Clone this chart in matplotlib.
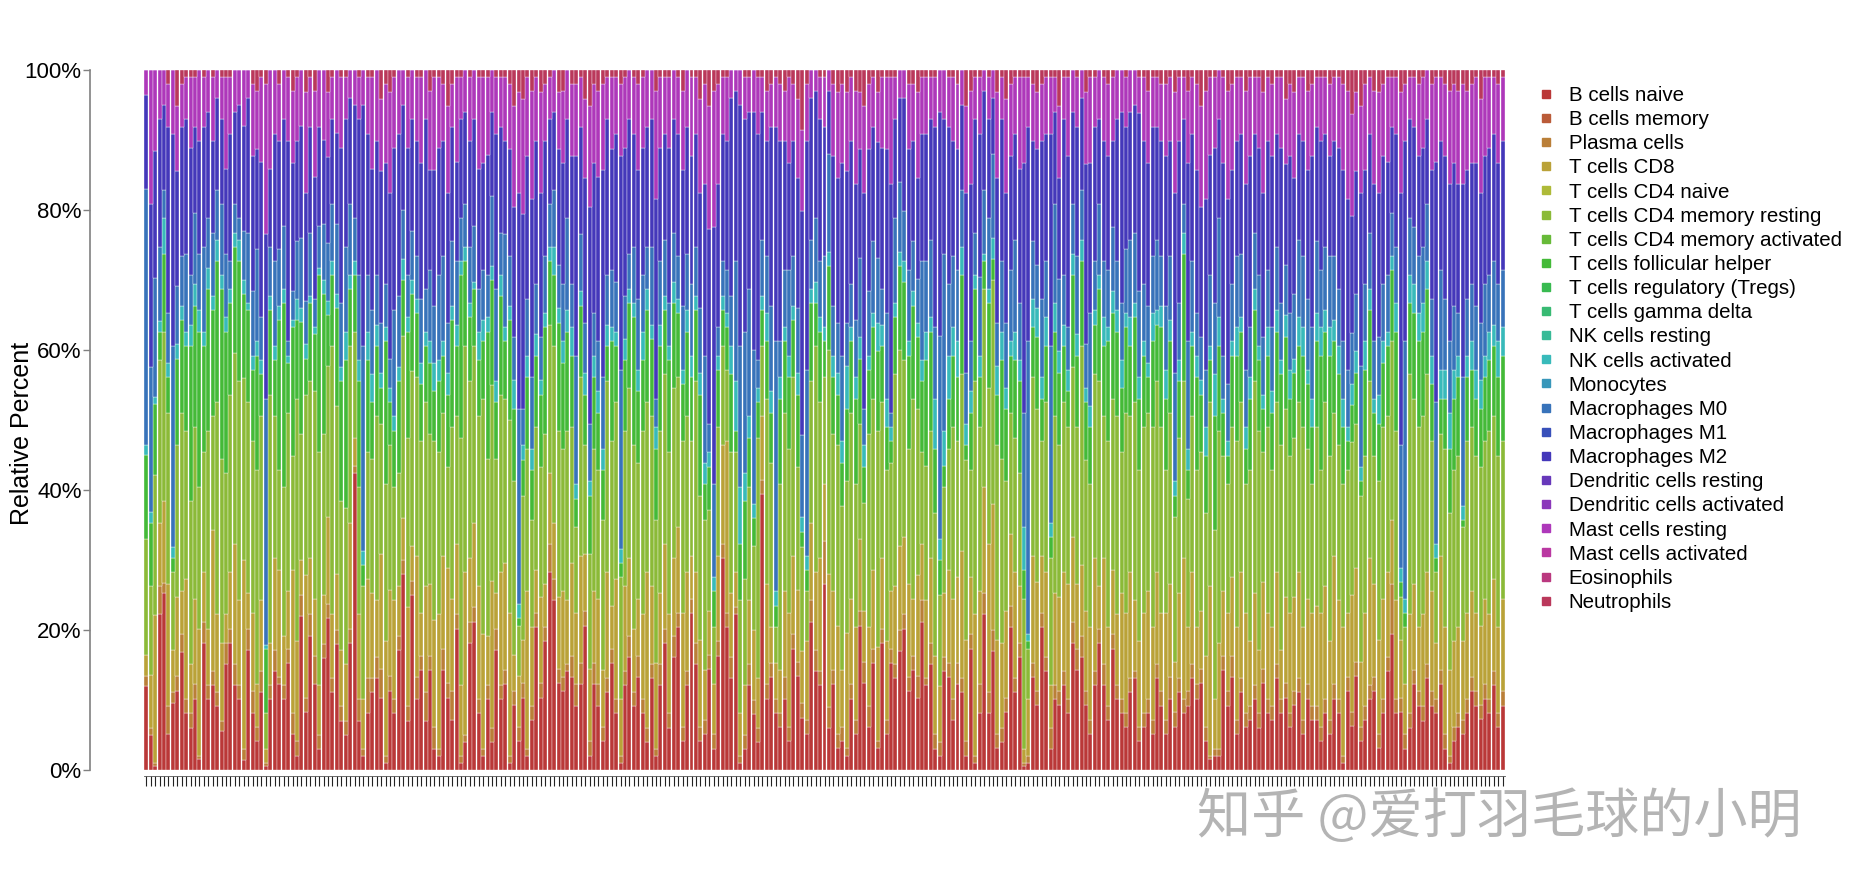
import numpy as np
import pandas as pd
import matplotlib
matplotlib.use("Agg")
import matplotlib.pyplot as plt
from matplotlib.colors import hsv_to_rgb
from matplotlib.lines import Line2D

cell_types = ["B cells naive", "B cells memory", "Plasma cells", "T cells CD8",
              "T cells CD4 naive", "T cells CD4 memory resting",
              "T cells CD4 memory activated", "T cells follicular helper",
              "T cells regulatory (Tregs)", "T cells gamma delta", "NK cells resting",
              "NK cells activated", "Monocytes", "Macrophages M0", "Macrophages M1",
              "Macrophages M2", "Dendritic cells resting", "Dendritic cells activated",
              "Mast cells resting", "Mast cells activated", "Eosinophils", "Neutrophils"]

# estimated fractions (%) per sample; the other cell types are not visible
b_cells_naive = [
    12, 5, 0.5, 22, 25, 5, 9.5, 11, 16.5, 8, 6, 10, 1.5, 18, 10, 12, 9, 5.5, 15, 18, 12, 10, 1.5, 17, 8, 4, 11, 0.5, 10, 14, 12, 10, 15, 5, 2, 22, 8, 19, 12, 3, 16, 21, 11, 18,
    7, 5, 18, 42, 7, 2, 8, 11, 13, 10, 1, 11, 8, 17, 28, 7, 25, 10, 14, 7, 14, 3, 2, 14, 10, 7, 20, 1, 4, 18, 21, 8, 2, 10, 4, 17, 10, 12, 1, 9, 4, 10, 2, 7,
    20, 10, 18, 28, 24, 12, 11, 14, 13, 9, 12, 20, 2, 12, 9, 4, 11, 15, 8, 1, 12, 16, 9, 13, 8, 4, 13, 2, 12, 18, 6, 16, 20, 4, 12, 22, 15, 4, 5, 14, 3, 16, 30, 20,
    13, 22, 1, 3, 12, 8, 4, 39, 10, 13, 8, 6, 10, 4, 17, 13, 7, 5, 21, 14, 12, 26, 6, 12, 3, 4, 2, 10, 5, 20, 12, 6, 15, 3, 18, 5, 15, 13, 17, 20, 11, 14, 10, 21,
    12, 15, 3, 2, 14, 13, 7, 12, 11, 2, 17, 1, 8, 22, 8, 17, 3, 4, 8, 20, 11, 16, 0.5, 1, 13, 9, 20, 14, 3, 10, 9, 12, 8, 18, 14, 16, 9, 5, 12, 18, 12, 7, 17, 10,
    8, 6, 11, 13, 4, 6, 8, 5, 13, 9, 5, 10, 6, 11, 8, 9, 13, 10, 12, 4, 1.5, 2, 2, 14, 9, 13, 5, 11, 6, 7, 10, 6, 12, 8, 7, 13, 8, 10, 6, 9, 11, 5, 10, 7,
    7, 4, 8, 5, 10, 8, 1, 11, 6, 13, 4, 7, 10, 11, 3, 8, 14, 19, 8, 8, 3, 6, 12, 9, 7, 13, 9, 8, 12, 3, 1, 4, 6, 5, 8, 11, 9, 7, 10, 8, 12, 6, 9]
plasma_cells = [
    1.5, 1, 0.5, 4, 1.5, 4, 1.5, 2, 2.5, 2, 2, 2, 0.5, 3, 2, 2, 2, 1.5, 3, 2, 3, 2, 1.5, 3, 3, 2, 3, 0.5, 2, 3, 1, 2, 2, 3, 2, 3, 2, 3, 4, 2, 2, 2, 2, 2,
    2, 2, 2, 1, 3, 1, 5, 2, 3, 4, 1, 2, 2, 2, 2, 2, 2, 3, 2, 4, 2, 3, 1, 3, 2, 4, 2, 1, 1, 3, 2, 2, 1, 2, 2, 3, 2, 2, 1, 2, 2, 2, 1, 2,
    2, 2, 2, 4, 3, 2, 2, 1, 3, 3, 3, 2, 2, 3, 3, 2, 2, 2, 2, 1, 2, 3, 2, 3, 2, 2, 2, 1, 3, 2, 2, 3, 2, 2, 2, 2, 3, 2, 2, 2, 2, 2, 2, 2,
    3, 1, 1, 2, 3, 2, 2, 2, 2, 2, 2, 2, 3, 2, 2, 2, 2, 2, 3, 3, 2, 6, 3, 2, 2, 2, 1, 2, 2, 2, 3, 3, 2, 1, 2, 2, 2, 2, 3, 2, 2, 2, 3, 3,
    1, 3, 2, 2, 2, 2, 3, 3, 2, 2, 2, 1, 4, 3, 3, 3, 2, 2, 2, 3, 2, 2, 0.5, 1, 2, 2, 2, 2, 3, 2, 2, 2, 2, 3, 3, 3, 2, 2, 2, 2, 3, 2, 2, 2,
    2, 2, 2, 1, 2, 2, 2, 2, 2, 2, 2, 3, 2, 2, 2, 2, 2, 2, 2, 2, 0.5, 1, 1, 2, 2, 3, 2, 2, 2, 2, 2, 2, 2, 2, 2, 2, 2, 2, 2, 2, 2, 2, 2, 2,
    2, 2, 2, 2, 2, 2, 1, 2, 2, 2, 2, 2, 2, 2, 2, 2, 2, 7, 2, 2, 2, 2, 2, 2, 2, 2, 2, 2, 2, 2, 1, 2, 2, 2, 2, 2, 2, 2, 2, 2, 2, 2, 2]
t_cells_cd8 = [
    3, 7.5, 21, 9, 11.5, 17, 6, 11, 6, 17, 7, 12, 18, 7, 8, 20, 11, 11, 4, 8, 17, 12, 27, 5, 11, 6, 10, 2, 6, 13, 15, 7, 8, 20, 14, 5, 17, 8, 8, 7, 7, 12, 9, 8,
    8, 8, 15, 4, 12, 7, 14, 12, 8, 16, 16, 12, 14, 7, 6, 14, 5, 17, 6, 15, 10, 15, 19, 13, 16, 13, 10, 10, 23, 9, 12, 16, 16, 7, 21, 5, 16, 15, 20, 5, 7, 6, 22, 11,
    6, 12, 6, 10, 8, 10, 12, 9, 13, 10, 15, 8, 10, 10, 12, 8, 15, 6, 17, 8, 12, 11, 9, 8, 12, 22, 11, 12, 10, 12, 14, 11, 12, 16, 14, 6, 10, 12, 7, 6, 7, 12, 14, 24,
    9, 5, 6, 7, 9, 10, 7, 9, 14, 5, 5, 6, 12, 16, 11, 10, 7, 11, 11, 11, 16, 8, 19, 11, 15, 8, 16, 12, 13, 10, 7, 11, 11, 13, 10, 11, 8, 11, 12, 11, 13, 8, 14, 8,
    11, 12, 11, 8, 9, 13, 14, 12, 18, 14, 8, 20, 13, 15, 21, 18, 13, 12, 12, 10, 15, 8, 2, 8, 15, 15, 8, 12, 6, 13, 13, 14, 16, 12, 9, 10, 11, 13, 16, 6, 15, 11, 9, 10,
    15, 14, 15, 10, 12, 14, 15, 13, 13, 11, 15, 13, 7, 12, 20, 9, 13, 8, 8, 10, 24, 7, 15, 9, 11, 11, 13, 15, 14, 9, 13, 9, 12, 12, 11, 13, 7, 12, 14, 13, 15, 13, 12, 13,
    14, 16, 16, 11, 18, 14, 18, 9, 16, 13, 9, 13, 18, 13, 13, 14, 12, 9, 14, 8, 7, 14, 12, 9, 13, 13, 14, 8, 16, 15, 12, 12, 12, 11, 12, 12, 11, 11, 12, 12, 13, 12, 13]
t_cd4_memory_resting = [
    16.5, 12.5, 20, 23, 24, 24, 11, 21, 25, 21, 23, 24, 20, 17, 28, 16, 30, 26, 20, 25, 27, 31, 26, 27, 24, 30, 26, 5, 35, 20, 14, 21, 25, 16, 34, 18, 25, 25, 29, 33, 23, 21, 38, 24,
    21, 22, 25, 15, 18, 16, 18, 19, 26, 18, 22, 20, 16, 16, 26, 24, 25, 25, 24, 26, 21, 25, 23, 20, 14, 24, 18, 35, 32, 25, 25, 24, 33, 25, 28, 19, 25, 23, 27, 24, 7, 20, 20, 15,
    20, 18, 21, 21, 25, 23, 20, 24, 19, 12, 25, 15, 16, 20, 18, 21, 27, 23, 25, 17, 22, 24, 26, 19, 26, 24, 24, 20, 23, 24, 23, 24, 21, 24, 22, 16, 27, 20, 21, 14, 8, 18, 14, 10,
    20, 17, 16, 15, 16, 12, 34, 10, 26, 23, 5, 26, 25, 23, 25, 17, 14, 7, 20, 32, 22, 15, 32, 22, 25, 23, 21, 26, 20, 16, 15, 27, 24, 30, 22, 24, 18, 30, 28, 25, 19, 28, 23, 13,
    19, 18, 20, 13, 15, 17, 24, 19, 25, 25, 15, 33, 23, 28, 22, 32, 27, 26, 18, 17, 19, 16, 21, 7, 25, 24, 16, 24, 18, 25, 21, 24, 22, 24, 22, 31, 21, 20, 26, 29, 20, 26, 24, 28,
    20, 28, 22, 28, 24, 26, 25, 28, 27, 26, 20, 24, 20, 22, 25, 18, 22, 22, 22, 20, 26, 24, 30, 19, 18, 21, 26, 24, 18, 24, 30, 31, 18, 26, 22, 24, 29, 26, 22, 22, 24, 28, 21, 18,
    25, 20, 26, 26, 20, 22, 20, 20, 21, 20, 23, 22, 25, 18, 22, 24, 22, 25, 24, 6, 8, 34, 26, 28, 28, 28, 21, 10, 17, 25, 22, 24, 24, 16, 24, 23, 22, 22, 22, 26, 23, 24, 22]
t_follicular_helper = [
    12, 9, 10, 4, 11, 5, 2, 12, 13, 12, 22, 17, 22, 15, 20, 15, 20, 24, 20, 13, 15, 17, 12, 13, 10, 16, 6, 9, 12, 8, 21, 26, 7, 18, 11, 16, 5, 11, 8, 25, 20, 7, 10, 14,
    17, 21, 8, 8, 15, 3, 13, 8, 10, 5, 20, 6, 8, 13, 8, 15, 11, 9, 8, 8, 10, 7, 10, 8, 10, 15, 10, 23, 12, 9, 8, 8, 8, 18, 15, 8, 14, 8, 14, 10, 1, 5, 10, 7,
    10, 10, 15, 9, 10, 15, 12, 14, 10, 4, 10, 7, 8, 10, 8, 7, 5, 14, 8, 2, 10, 12, 18, 10, 10, 13, 11, 10, 12, 9, 13, 12, 9, 8, 12, 9, 10, 14, 5, 6, 5, 8, 5, 6,
    11, 3, 8, 11, 7, 4, 5, 5, 8, 7, 3, 12, 10, 10, 8, 10, 2, 3, 11, 6, 10, 5, 12, 8, 7, 6, 10, 10, 12, 9, 5, 9, 10, 11, 8, 6, 3, 8, 12, 11, 13, 13, 10, 10,
    15, 14, 9, 5, 3, 7, 10, 9, 14, 2, 8, 13, 7, 4, 12, 3, 7, 14, 10, 8, 11, 13, 4, 1, 7, 10, 6, 8, 3, 12, 10, 8, 5, 13, 10, 12, 8, 8, 7, 13, 10, 14, 12, 12,
    9, 12, 10, 12, 10, 10, 5, 12, 8, 14, 10, 10, 3, 8, 18, 4, 10, 13, 8, 8, 6, 16, 12, 6, 4, 10, 12, 10, 5, 10, 10, 10, 6, 10, 8, 10, 10, 10, 8, 9, 8, 10, 9, 8,
    12, 16, 10, 14, 10, 10, 8, 4, 5, 7, 2, 12, 10, 6, 8, 9, 10, 10, 14, 2, 2, 10, 12, 12, 12, 12, 8, 2, 5, 7, 9, 10, 11, 1, 9, 8, 8, 8, 9, 10, 10, 11, 12]
nk_cells_activated = [
    1.5, 1.5, 1, 1.5, 5, 2, 1.5, 2, 2, 2, 3, 3, 3, 2, 3, 2, 3, 2, 2, 2, 2, 3, 2, 1, 2, 2, 2, 0.5, 2, 2, 2, 2, 1, 1, 3, 2, 2, 1, 1, 1, 2, 2, 2, 2,
    2, 4, 2, 2, 3, 2, 4, 4, 3, 2, 2, 2, 2, 2, 3, 2, 2, 2, 3, 2, 3, 4, 3, 2, 3, 2, 3, 2, 2, 2, 1, 4, 3, 2, 2, 3, 3, 2, 2, 4, 2, 2, 3, 3,
    3, 2, 2, 2, 4, 2, 3, 3, 4, 2, 2, 3, 2, 3, 3, 3, 3, 2, 2, 2, 3, 2, 2, 3, 4, 3, 2, 3, 3, 2, 2, 3, 2, 2, 3, 3, 2, 3, 3, 2, 2, 2, 2, 2,
    4, 7, 8, 4, 3, 2, 2, 2, 4, 3, 2, 3, 2, 3, 2, 3, 2, 2, 2, 3, 2, 2, 2, 3, 3, 3, 6, 2, 3, 3, 3, 2, 2, 4, 3, 4, 2, 2, 2, 3, 2, 2, 2, 3,
    4, 2, 7, 3, 5, 6, 4, 5, 4, 3, 3, 2, 3, 1, 2, 3, 4, 4, 3, 2, 4, 3, 6, 1, 4, 4, 3, 4, 2, 4, 3, 3, 3, 3, 3, 3, 2, 3, 2, 2, 4, 2, 3, 3,
    4, 2, 4, 2, 3, 2, 2, 4, 2, 3, 4, 3, 2, 3, 3, 3, 2, 3, 2, 4, 2, 6, 4, 2, 2, 2, 4, 2, 3, 3, 3, 2, 2, 4, 3, 3, 2, 3, 4, 2, 4, 4, 2, 4,
    4, 4, 3, 4, 3, 4, 4, 2, 3, 3, 2, 4, 3, 2, 4, 3, 2, 2, 4, 2, 2, 4, 4, 4, 4, 4, 4, 2, 4, 4, 5, 4, 3, 2, 3, 4, 4, 4, 3, 4, 3, 5, 4]
macrophages_m0 = [
    36.5, 20.5, 17, 10.5, 4, 7, 28.5, 8, 7, 11, 7, 10, 8, 12, 7, 9, 7, 10, 9, 4, 4, 3, 7, 10, 9, 13, 6, 34.5, 7, 12, 8, 9, 2, 4, 8, 10, 6, 9, 4, 6, 8, 8, 8, 10,
    9, 12, 10, 6, 12, 29, 8, 9, 7, 7, 6, 4, 15, 10, 7, 6, 7, 6, 9, 6, 10, 8, 12, 12, 7, 9, 9, 6, 6, 8, 8, 6, 7, 6, 10, 13, 6, 13, 7, 6, 27, 5, 8, 10,
    7, 6, 8, 6, 8, 6, 8, 13, 6, 18, 8, 7, 8, 6, 7, 10, 7, 8, 7, 25, 6, 5, 8, 10, 8, 6, 11, 4, 9, 8, 6, 7, 6, 9, 8, 10, 7, 9, 15, 4, 13, 4, 5, 6,
    7, 17, 20, 20, 18, 22, 4, 8, 8, 12, 35, 5, 8, 12, 7, 9, 11, 26, 7, 9, 8, 10, 14, 7, 7, 12, 6, 6, 8, 11, 5, 9, 10, 9, 5, 12, 2, 12, 10, 7, 10, 7, 6, 14,
    10, 11, 10, 29, 25, 10, 10, 10, 8, 7, 7, 6, 11, 9, 10, 12, 6, 10, 9, 10, 13, 8, 16, 41, 8, 6, 11, 8, 25, 14, 10, 7, 6, 7, 11, 7, 6, 13, 7, 10, 8, 8, 9, 7,
    8, 9, 11, 10, 12, 8, 8, 8, 10, 7, 9, 9, 15, 8, 4, 15, 10, 6, 6, 8, 10, 10, 14, 6, 8, 8, 10, 9, 8, 7, 8, 10, 8, 8, 9, 9, 8, 7, 8, 9, 11, 10, 10, 10,
    10, 8, 9, 10, 9, 8, 8, 8, 7, 8, 14, 8, 8, 8, 8, 8, 8, 6, 8, 17, 36, 8, 8, 8, 8, 8, 8, 20, 14, 10, 10, 9, 6, 18, 8, 8, 9, 8, 10, 8, 9, 8, 8]
macrophages_m2 = [
    13.5, 23, 18, 18, 12, 26, 30, 16, 18, 19, 18, 12, 16, 17, 15, 13, 13, 12, 12, 18, 13, 16, 15, 19, 19, 14, 22, 23, 11, 18, 15, 15, 28, 18, 14, 16, 15, 15, 17, 14, 12, 12, 12, 13,
    22, 18, 15, 16, 22, 34, 20, 20, 19, 21, 17, 23, 23, 23, 15, 18, 16, 16, 19, 24, 14, 19, 18, 16, 18, 16, 14, 14, 13, 15, 15, 17, 15, 17, 12, 22, 15, 13, 15, 18, 30, 27, 20, 25,
    20, 20, 16, 12, 11, 16, 17, 14, 18, 28, 15, 20, 30, 21, 23, 29, 22, 17, 21, 30, 21, 19, 16, 18, 18, 17, 18, 28, 16, 15, 22, 16, 17, 19, 18, 18, 16, 16, 24, 27, 36, 20, 18, 18,
    28, 24, 34, 30, 25, 34, 32, 18, 16, 25, 30, 28, 18, 15, 16, 18, 30, 32, 20, 18, 20, 18, 9, 21, 20, 27, 21, 20, 19, 15, 30, 20, 16, 16, 20, 23, 32, 14, 12, 16, 17, 14, 14, 18,
    18, 17, 28, 32, 19, 22, 16, 17, 12, 25, 22, 16, 20, 14, 14, 8, 20, 20, 18, 16, 15, 19, 35, 30, 14, 16, 22, 18, 30, 13, 14, 22, 24, 13, 18, 13, 25, 21, 19, 12, 17, 16, 12, 20,
    27, 17, 18, 18, 25, 20, 20, 18, 16, 16, 21, 16, 25, 23, 12, 25, 18, 20, 18, 24, 17, 22, 14, 27, 26, 16, 16, 17, 26, 24, 14, 18, 20, 18, 24, 16, 22, 14, 22, 16, 15, 16, 18, 24,
    16, 18, 16, 14, 16, 20, 24, 24, 16, 17, 24, 16, 14, 22, 20, 18, 16, 12, 16, 35, 28, 14, 14, 14, 14, 12, 18, 34, 18, 20, 22, 20, 18, 27, 18, 17, 20, 18, 18, 18, 18, 17, 18]
mast_cells_resting = [
    3.5, 19, 11.5, 7, 5, 6, 9, 9, 6, 6, 10, 7, 10, 7, 6, 9, 4, 6, 13, 8, 6, 5, 8, 4, 10, 8, 12, 21, 14, 9, 8, 7, 9, 10, 9, 8, 14, 7, 12, 8, 10, 9, 6, 9,
    10, 6, 4, 5, 6, 5, 8, 13, 10, 10, 11, 14, 10, 9, 5, 10, 7, 9, 12, 7, 11, 13, 10, 8, 12, 6, 12, 6, 6, 9, 7, 13, 12, 11, 6, 8, 7, 9, 9, 14, 14, 16, 11, 15,
    9, 14, 8, 6, 6, 8, 10, 7, 10, 10, 7, 11, 14, 11, 12, 12, 6, 10, 8, 10, 10, 7, 8, 12, 10, 8, 7, 15, 10, 8, 10, 7, 8, 11, 8, 11, 8, 13, 14, 17, 19, 14, 8, 9,
    4, 3, 5, 6, 5, 6, 8, 5, 7, 6, 7, 8, 7, 12, 8, 11, 11, 8, 4, 3, 6, 7, 3, 10, 12, 11, 11, 9, 13, 8, 12, 9, 7, 7, 10, 10, 15, 6, 4, 4, 9, 8, 12, 8,
    8, 6, 7, 6, 7, 7, 9, 9, 5, 12, 13, 6, 8, 3, 6, 4, 12, 6, 13, 10, 8, 13, 12, 7, 8, 8, 8, 8, 8, 5, 10, 6, 11, 6, 7, 4, 10, 12, 7, 7, 9, 10, 9, 7,
    6, 7, 6, 5, 5, 9, 10, 7, 7, 8, 10, 9, 14, 9, 6, 10, 8, 12, 14, 15, 11, 10, 7, 12, 15, 12, 9, 8, 13, 11, 8, 10, 14, 9, 10, 8, 10, 9, 10, 12, 8, 9, 11, 10,
    7, 9, 8, 10, 9, 10, 12, 15, 14, 11, 12, 12, 8, 13, 14, 10, 12, 7, 8, 14, 8, 6, 7, 10, 10, 7, 12, 12, 9, 10, 13, 11, 13, 14, 11, 11, 12, 13, 11, 10, 8, 11, 9]
neutrophils = [
    0, 0, 0, 0, 0, 2, 0, 5, 2, 1, 1, 1, 0, 1, 0, 1, 0, 1, 1, 1, 0, 0, 0, 0, 2, 3, 1, 2, 0, 0, 2, 0, 1, 3, 1, 0, 3, 1, 3, 0, 0, 3, 1, 0,
    1, 1, 0, 0, 1, 0, 1, 1, 0, 4, 2, 3, 1, 0, 0, 1, 0, 1, 1, 0, 3, 1, 1, 2, 5, 2, 1, 1, 0, 1, 0, 1, 1, 1, 0, 1, 1, 1, 2, 5, 3, 4, 1, 3,
    1, 3, 2, 1, 0, 3, 3, 0, 2, 2, 1, 4, 5, 2, 3, 2, 1, 1, 1, 2, 1, 0, 1, 2, 1, 0, 0, 3, 1, 1, 1, 0, 1, 3, 0, 1, 1, 4, 2, 5, 3, 2, 1, 1,
    0, 0, 0, 1, 1, 0, 1, 1, 3, 2, 1, 2, 3, 1, 2, 4, 8, 2, 0, 0, 1, 1, 0, 2, 3, 2, 3, 1, 3, 3, 5, 2, 1, 3, 1, 1, 1, 1, 0, 0, 2, 2, 3, 1,
    1, 1, 1, 0, 0, 1, 1, 2, 0, 5, 3, 1, 1, 0, 1, 0, 3, 1, 4, 2, 1, 1, 1, 1, 2, 3, 2, 1, 1, 1, 5, 1, 1, 0, 1, 0, 3, 1, 1, 0, 1, 2, 1, 0,
    0, 1, 0, 0, 1, 1, 3, 1, 1, 2, 2, 1, 3, 1, 1, 3, 1, 2, 5, 3, 1, 1, 0, 1, 3, 2, 1, 1, 3, 1, 1, 1, 3, 1, 2, 1, 1, 4, 2, 3, 1, 1, 3, 2,
    1, 1, 1, 2, 1, 1, 2, 3, 6, 3, 5, 2, 1, 3, 3, 2, 1, 1, 1, 3, 2, 1, 1, 2, 1, 0, 2, 1, 1, 2, 3, 2, 3, 2, 3, 2, 1, 4, 1, 1, 1, 2, 1]

df = pd.DataFrame({
    "B cells naive": b_cells_naive,
    "Plasma cells": plasma_cells,
    "T cells CD8": t_cells_cd8,
    "T cells CD4 memory resting": t_cd4_memory_resting,
    "T cells follicular helper": t_follicular_helper,
    "NK cells activated": nk_cells_activated,
    "Macrophages M0": macrophages_m0,
    "Macrophages M2": macrophages_m2,
    "Mast cells resting": mast_cells_resting,
    "Neutrophils": neutrophils,
})
# relative percent per sample
pct = df.div(df.sum(axis=1), axis=0) * 100

plt.rcParams["font.family"] = ["Liberation Sans", "DejaVu Sans"]

colors = {name: hsv_to_rgb((i / len(cell_types), 0.70, 0.73)) for i, name in enumerate(cell_types)}

W, H = 1851, 894
fig = plt.figure(figsize=(W / 100, H / 100), dpi=100)
ax = fig.add_axes([144 / W, 1 - 770 / H, (1505 - 144) / W, 700 / H])

x = np.arange(len(pct))
bottom = np.zeros(len(pct))
for name in cell_types:
    if name not in pct:
        continue
    ax.bar(x, pct[name], bottom=bottom, width=0.9, color=colors[name],
           edgecolor="white", linewidth=0.25)
    bottom += pct[name].values

ax.set_xlim(-0.5, len(pct) - 0.5)
ax.set_ylim(0, 100)
ax.set_xticks(x)
ax.set_xticklabels([])
ax.set_yticks([0, 20, 40, 60, 80, 100])
ax.set_yticklabels(["0%", "20%", "40%", "60%", "80%", "100%"])
ax.tick_params(axis="y", length=5, width=1, color="#808080", pad=1, labelsize=16)
ax.tick_params(axis="x", length=7, width=0.8, color="#222222")
for s in ["top", "right"]:
    ax.spines[s].set_visible(False)
ax.spines["left"].set_position(("outward", 39))
ax.spines["left"].set_color("#808080")
ax.spines["left"].set_linewidth(1.2)
ax.spines["bottom"].set_position(("outward", 4))
ax.spines["bottom"].set_color("#555555")
ax.spines["bottom"].set_linewidth(0.6)

fig.text(22 / W, 1 - 433 / H, "Relative Percent", rotation=90, fontsize=18,
         ha="center", va="center")

handles = [Line2D([], [], marker="s", linestyle="", markersize=6,
                  markerfacecolor=colors[n], markeredgecolor=colors[n]) for n in cell_types]
fig.legend(handles, cell_types, loc="upper left", bbox_to_anchor=(1540 / W, 1 - 86 / H),
           frameon=False, fontsize=14.8, handlelength=0.6, handletextpad=0.8,
           labelspacing=0.25, borderpad=0, borderaxespad=0)

fig.text(1499 / W, 1 - 818 / H, "知乎 @爱打羽毛球的小明", fontsize=39, color="#b4b4b4",
         family=["Noto Sans CJK SC", "DejaVu Sans"], ha="center", va="center")

fig.savefig("out.png", dpi=100)
